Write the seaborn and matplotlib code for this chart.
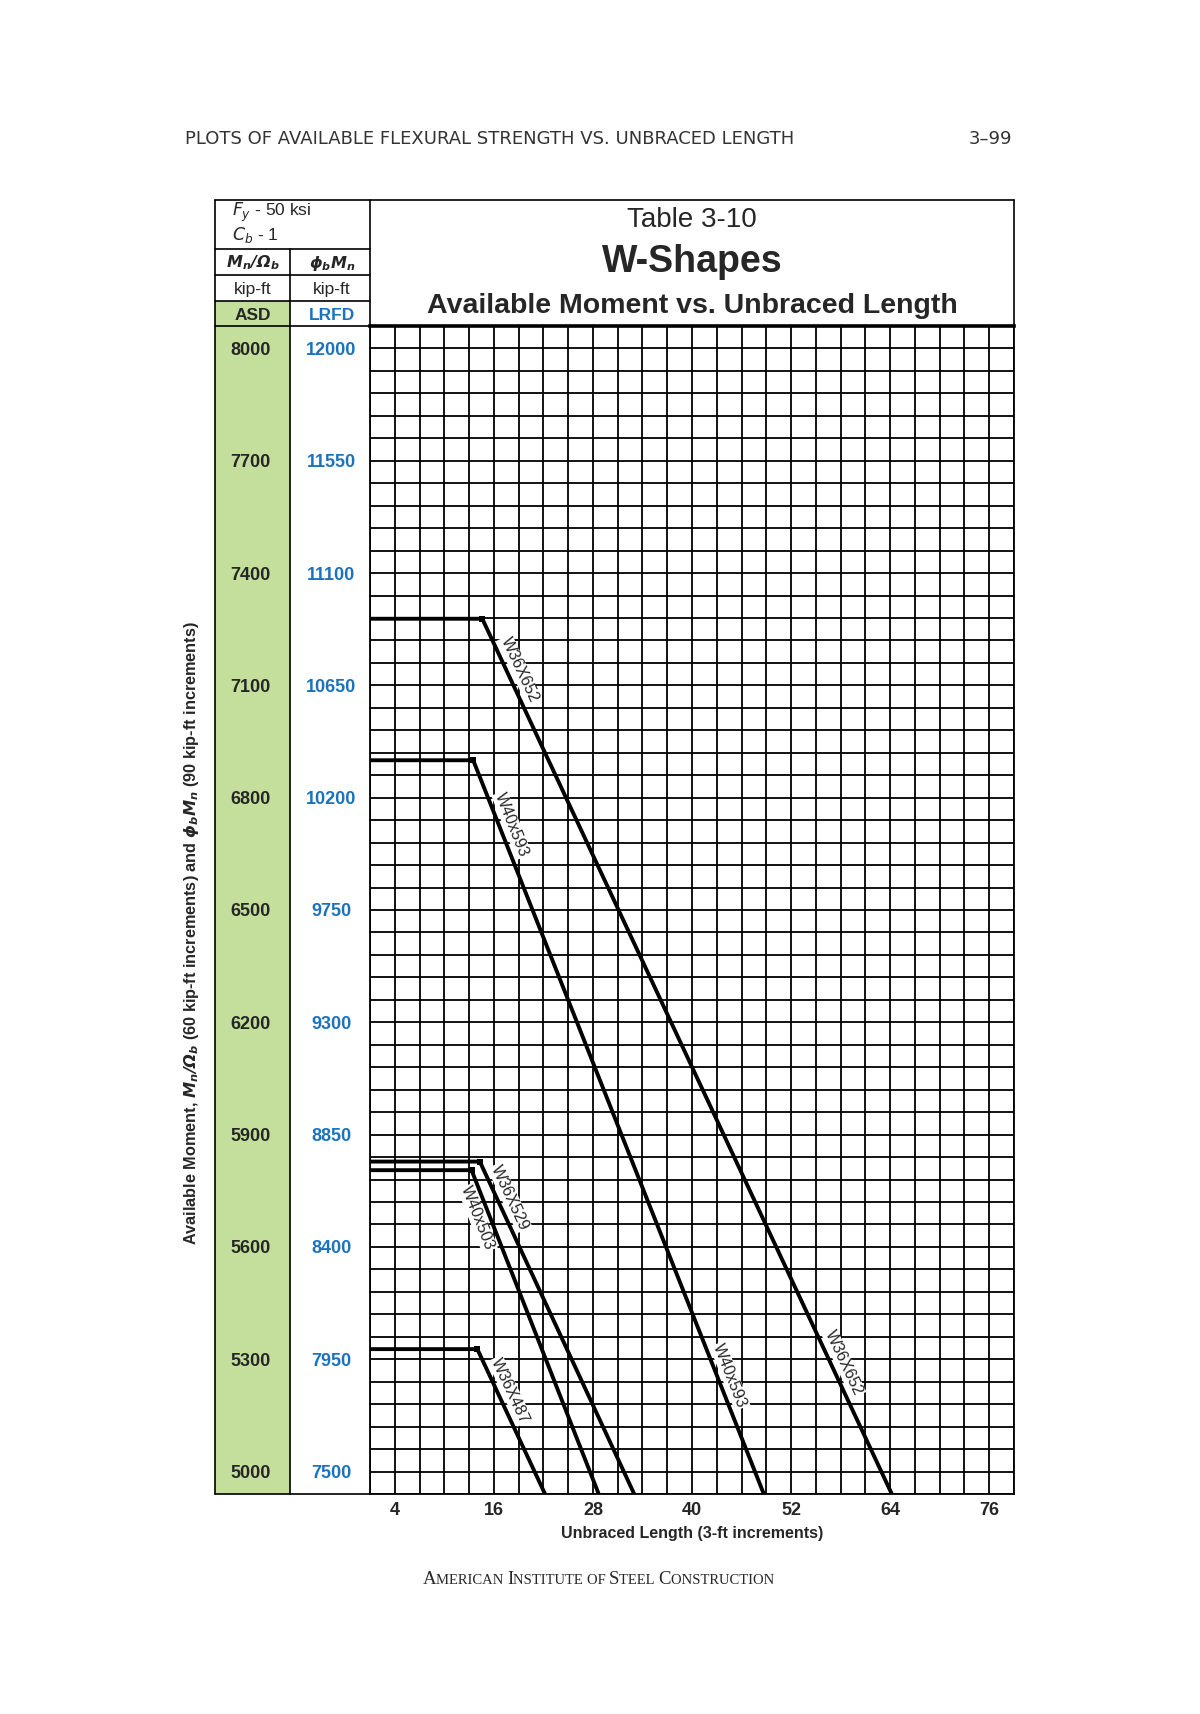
import numpy as np
import pandas as pd
import matplotlib
matplotlib.use("Agg")
import matplotlib.pyplot as plt
from matplotlib.patches import Rectangle
from matplotlib.offsetbox import TextArea, HPacker, AnnotationBbox
import seaborn as sns

# -------------------------------------------
# Values (ASD, kip-ft and ft)
# -------------------------------------------
shapes = ["W36x652", "W40x593", "W36x529", "W40x503", "W36x487"]
mp_asd = [7278, 6900, 5828, 5805, 5327]     # plateau, Mp / Omega_b
lp_ft = [14.6, 13.5, 14.3, 13.3, 14.0]      # end of plateau (Lp)
lb_exit = [64.2, 48.7, 33.0, 28.7, 22.2]    # Lb where the curve leaves the chart
m_exit = 4940                               # moment at that point (chart bottom)

asd_ticks = [8000, 7700, 7400, 7100, 6800, 6500, 6200, 5900, 5600, 5300, 5000]
lrfd_ticks = [12000, 11550, 11100, 10650, 10200, 9750, 9300, 8850, 8400, 7950, 7500]
x_ticks = [4, 16, 28, 40, 52, 64, 76]

GREEN = "#c4df9b"
BLUE = "#1b72bd"

# long-form table for seaborn
rows = []
for s, mp, lp, le in zip(shapes, mp_asd, lp_ft, lb_exit):
    rows.append({"shape": s, "Lb": 0.0, "M": mp})
    rows.append({"shape": s, "Lb": lp, "M": mp})
    rows.append({"shape": s, "Lb": le, "M": m_exit})
df = pd.DataFrame(rows)

sns.set_style("white")
plt.rcParams["font.family"] = ["Liberation Sans", "DejaVu Sans"]
plt.rcParams["mathtext.fontset"] = "custom"
plt.rcParams["mathtext.rm"] = "DejaVu Sans"
plt.rcParams["mathtext.it"] = "DejaVu Sans:italic"
plt.rcParams["mathtext.bf"] = "DejaVu Sans:italic:bold"

fig = plt.figure(figsize=(12, 17.14), dpi=100)

# ---- background layer in pixel coordinates (table frame, header) ----
bg = fig.add_axes([0, 0, 1, 1], zorder=0)
bg.set_xlim(0, 1200)
bg.set_ylim(1714, 0)
bg.axis("off")

X0, XA, XL, XR = 215, 290, 370, 1014
Y0, Y1, Y2, Y3, Y4, YB = 200, 249, 275, 301, 326, 1494
lw_frame = 1.2

bg.add_patch(Rectangle((X0, Y3), XA - X0, YB - Y3, fc=GREEN, ec="none"))
bg.plot([X0, XR], [Y0, Y0], color="black", lw=lw_frame)
bg.plot([X0, X0], [Y0, YB], color="black", lw=lw_frame)
bg.plot([XR, XR], [Y0, Y4], color="black", lw=lw_frame)
bg.plot([X0, XL], [YB, YB], color="black", lw=lw_frame)
bg.plot([XL, XL], [Y0, Y4], color="black", lw=lw_frame)
bg.plot([XA, XA], [Y1, YB], color="black", lw=lw_frame)
for yy in [Y1, Y2, Y3, Y4]:
    bg.plot([X0, XL], [yy, yy], color="black", lw=lw_frame)

# header cells
bg.text(232, 212, r"$F_y$ - 50 ksi", fontsize=12.5, ha="left", va="center")
bg.text(232, 235, r"$C_b$ - 1", fontsize=12.5, ha="left", va="center")
bg.text(253, 263, r"$\mathbf{M_n/\Omega_b}$", fontsize=11.5, ha="center", va="center")
bg.text(332, 263, r"$\mathbf{\phi_b M_n}$", fontsize=11.5, ha="center", va="center")
bg.text(253, 289, "kip-ft", fontsize=12.5, ha="center", va="center")
bg.text(332, 289, "kip-ft", fontsize=12.5, ha="center", va="center")
bg.text(253, 315, "ASD", fontsize=12.5, ha="center", va="center", fontweight="bold")
bg.text(332, 315, "LRFD", fontsize=12.5, ha="center", va="center", color=BLUE, fontweight="bold")

# title block
xc = (XL + XR) / 2
bg.text(xc, 220, "Table 3-10", fontsize=20, ha="center", va="center")
bg.text(xc, 262, "W-Shapes", fontsize=27, ha="center", va="center", fontweight="bold")
bg.text(xc, 306, "Available Moment vs. Unbraced Length", fontsize=20.5,
        ha="center", va="center", fontweight="bold")

# page header
bg.text(185, 139, "PLOTS OF AVAILABLE FLEXURAL STRENGTH VS. UNBRACED LENGTH",
        fontsize=13, ha="left", va="center", color="#333333", family="DejaVu Sans")
bg.text(1012, 139, "3\u201399", fontsize=13, ha="right", va="center", color="#333333",
        family="DejaVu Sans")

# page footer in small caps
parts = []
for word in ["American", "Institute", "of", "Steel", "Construction"]:
    if word == "of":
        parts.append(TextArea("OF ", textprops=dict(fontsize=10.5, family="Liberation Serif")))
        continue
    parts.append(TextArea(word[0], textprops=dict(fontsize=13.5, family="Liberation Serif")))
    parts.append(TextArea(word[1:].upper() + " ",
                          textprops=dict(fontsize=10.5, family="Liberation Serif")))
pack = HPacker(children=parts, align="baseline", pad=0, sep=0)
bg.add_artist(AnnotationBbox(pack, (600, 1580), xycoords="data", frameon=False,
                             box_alignment=(0.5, 0.5)))

# ---- main plot ----
ax = fig.add_axes([XL / 1200, (1714 - YB) / 1714, (XR - XL) / 1200, (YB - Y4) / 1714],
                  zorder=2)
ax.set_facecolor("white")

sns.lineplot(data=df, x="Lb", y="M", units="shape", estimator=None, color="black",
             lw=2.8, ax=ax, legend=False, zorder=4, solid_capstyle="butt")
sns.scatterplot(x=lp_ft, y=mp_asd, marker="s", s=18, color="black", linewidth=0,
                ax=ax, zorder=5)

ax.set_xlim(1, 79)
ax.set_ylim(4940, 8060)
ax.set_xticks(x_ticks)
ax.set_xticks(np.arange(1, 80, 3), minor=True)
ax.set_yticks(asd_ticks)
ax.set_yticks(np.arange(4940, 8061, 60), minor=True)
ax.grid(which="both", color="black", lw=1.3)
ax.set_axisbelow(True)

ax.tick_params(which="minor", length=0)
ax.tick_params(axis="x", which="major", length=0, pad=6, labelsize=13)
ax.tick_params(axis="y", which="major", length=5, width=1.3, pad=81, labelsize=13)
for lbl in ax.get_xticklabels() + ax.get_yticklabels():
    lbl.set_fontweight("bold")
for lbl in ax.get_yticklabels():
    lbl.set_ha("center")

for side in ["left", "right", "bottom"]:
    ax.spines[side].set_linewidth(1.3)
    ax.spines[side].set_color("black")
ax.spines["top"].set_linewidth(2.6)
ax.spines["top"].set_color("black")

# LRFD scale (phi_b Mn = 1.5 Mn/Omega_b)
sec = ax.secondary_yaxis("left", functions=(lambda m: m * 1.5, lambda m: m / 1.5))
sec.set_yticks(lrfd_ticks, labels=[str(v) for v in lrfd_ticks])
sec.tick_params(length=0, pad=28, labelsize=13, labelcolor=BLUE)
sec.spines["left"].set_visible(False)
for lbl in sec.get_yticklabels():
    lbl.set_fontweight("bold")
    lbl.set_ha("center")

ax.set_xlabel("Unbraced Length (3-ft increments)", fontsize=11.5, fontweight="bold",
              labelpad=5)
ax.set_ylabel(r"Available Moment, $\mathbf{M_n/\Omega_b}$ (60 kip-ft increments) and "
              r"$\mathbf{\phi_b M_n}$ (90 kip-ft increments)",
              fontsize=11.7, fontweight="bold")
ax.yaxis.set_label_coords(-0.262, 0.48)

# ---- curve labels, set along the sloped part of each curve ----
label_specs = [
    ("W36x652", "W36X652", 0.064, 1),
    ("W36x652", "W36X652", 0.856, 1),
    ("W40x593", "W40x593", 0.094, 1),
    ("W40x593", "W40x593", 0.845, 1),
    ("W36x529", "W36X529", 0.123, 1),
    ("W40x503", "W40x503", 0.135, -1),
    ("W36x487", "W36X487", 0.321, 1),
]
for shape, text, t, side in label_specs:
    i = shapes.index(shape)
    p1 = ax.transData.transform((lp_ft[i], mp_asd[i]))
    p2 = ax.transData.transform((lb_exit[i], m_exit))
    d = (p2 - p1) / np.hypot(*(p2 - p1))
    angle = np.degrees(np.arctan2(d[1], d[0]))
    normal = np.array([-d[1], d[0]]) * side
    xy = (lp_ft[i] + t * (lb_exit[i] - lp_ft[i]), mp_asd[i] + t * (m_exit - mp_asd[i]))
    ax.annotate(text, xy=xy, xytext=normal * 12, textcoords="offset pixels",
                rotation=angle, rotation_mode="anchor", ha="center", va="center",
                fontsize=11.5, zorder=3,
                bbox=dict(fc="white", ec="none", pad=0.6))

fig.savefig("out.png", dpi=100)
